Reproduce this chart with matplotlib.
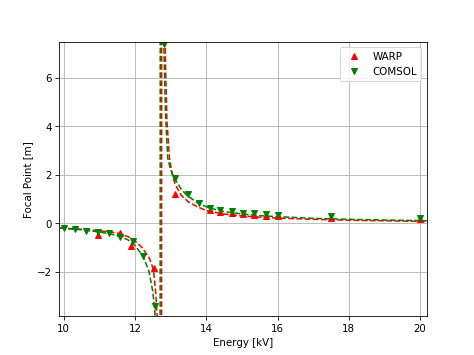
import matplotlib
matplotlib.use("Agg")
import matplotlib.pyplot as plt

# WARP simulation points
warp_E = [10.97, 11.58, 11.88, 12.53, 13.13, 14.1, 14.4, 14.72, 15.02, 15.35, 15.67, 16.0, 17.5, 20.0]
warp_f = [-0.5, -0.42, -0.96, -1.86, 1.19, 0.55, 0.47, 0.42, 0.38, 0.34, 0.31, 0.29, 0.22, 0.16]

# COMSOL simulation points
comsol_E = [10.0, 10.31, 10.64, 10.97, 11.27, 11.58, 11.95, 12.23, 12.56, 12.81,
            13.13, 13.48, 13.8, 14.1, 14.4, 14.72, 15.02, 15.35, 15.67, 16.0, 17.5, 20.0]
comsol_f = [-0.2, -0.24, -0.31, -0.38, -0.42, -0.56, -0.75, -1.35, -3.43, 7.4,
            1.87, 1.19, 0.85, 0.62, 0.54, 0.49, 0.44, 0.4, 0.37, 0.35, 0.28, 0.21]

# fitted curves
warp_fit_E = [9.9, 10.5, 11.0, 11.5, 11.8, 12.0, 12.2, 12.4, 12.52, 12.58, 12.63, 12.68, 12.74,
              12.76, 12.82, 12.86, 12.9, 12.97, 13.05, 13.13, 13.3, 13.5, 13.75, 14.0, 14.5,
              15.0, 15.5, 16.0, 17.0, 18.0, 19.0, 20.2]
warp_fit_f = [-0.2, -0.25, -0.31, -0.4, -0.55, -0.72, -1.0, -1.42, -1.9, -2.8, -3.9, -6.0, -40.0,
              40.0, 12.0, 6.5, 4.2, 2.68, 2.0, 1.6, 1.15, 0.88, 0.68, 0.52, 0.38,
              0.3, 0.25, 0.21, 0.16, 0.12, 0.1, 0.07]

comsol_fit_E = [9.9, 10.5, 11.0, 11.5, 11.8, 12.0, 12.23, 12.4, 12.5, 12.56, 12.62, 12.7,
                12.72, 12.78, 12.81, 12.86, 12.92, 13.0, 13.13, 13.3, 13.48, 13.8, 14.1, 14.5,
                15.0, 15.5, 16.0, 17.0, 18.0, 19.0, 20.2]
comsol_fit_f = [-0.2, -0.27, -0.36, -0.5, -0.68, -0.92, -1.35, -2.0, -2.8, -3.6, -6.0, -40.0,
                40.0, 12.0, 7.4, 4.5, 2.7, 2.2, 1.8, 1.4, 1.12, 0.8, 0.62, 0.48,
                0.38, 0.31, 0.27, 0.2, 0.16, 0.13, 0.1]

fig, ax = plt.subplots(figsize=(6.4, 4.8), dpi=474 / 6.4)

ax.plot(warp_fit_E, warp_fit_f, '--', color='red', lw=1.5)
ax.plot(comsol_fit_E, comsol_fit_f, '--', color='green', lw=1.5)
ax.plot(warp_E, warp_f, '^', color='red', ls='none', label='WARP')
ax.plot(comsol_E, comsol_f, 'v', color='green', ls='none', label='COMSOL')

ax.set_xlim(9.88, 20.18)
ax.set_ylim(-3.82, 7.46)
ax.set_xticks([10, 12, 14, 16, 18, 20])
ax.set_yticks([-2, 0, 2, 4, 6])
ax.grid(True)
ax.set_xlabel('Energy [kV]')
ax.set_ylabel('Focal Point [m]')
ax.legend(loc='upper right')

fig.savefig('out.png')
